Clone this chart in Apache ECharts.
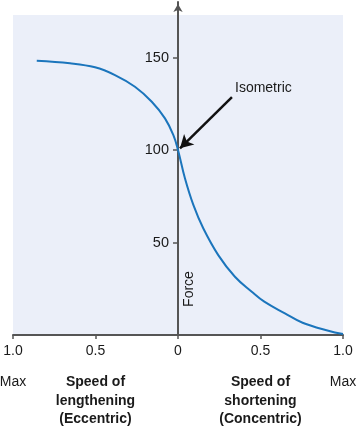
<!DOCTYPE html>
<html>
<head>
<meta charset="utf-8">
<script src="https://cdn.jsdelivr.net/npm/echarts@6/dist/echarts.min.js"></script>
<style>html,body{margin:0;padding:0;background:#fff}#c{width:356px;height:429px}</style>
</head>
<body>
<div id="c"></div>
<script>
// Speed axis: negative = lengthening (eccentric), positive = shortening (concentric)
const curveSpeed = [-0.856, -0.655, -0.503, -0.382, -0.261, -0.159, -0.079, -0.028, 0, 0.042, 0.093, 0.153, 0.244, 0.345, 0.447, 0.523, 0.648, 0.755, 0.911, 1.0];
const curveForce = [148.3, 146.9, 144.7, 140.5, 134.2, 126.1, 117.1, 108.1, 100, 84.7, 70.3, 57.7, 43.2, 31.5, 23.4, 18.0, 11.7, 6.6, 2.3, 0.5];
const xTickValues = [-1, -0.5, 0, 0.5, 1];
const xTickLabels = ['1.0', '0.5', '0', '0.5', '1.0'];
const xSubLabels = [['Max'], ['Speed of', 'lengthening', '(Eccentric)'], [], ['Speed of', 'shortening', '(Concentric)'], ['Max']];
const yTickValues = [50, 100, 150];
const isometricArrow = [[0.327, 128.6], [0.012, 100.9]];
const bgTop = 173;

const FONT = "'Liberation Sans', Arial, sans-serif";
const chart = echarts.init(document.getElementById('c'), null, {renderer: 'canvas'});

function xLabel(v) {
  const i = xTickValues.findIndex(t => Math.abs(t - v) < 1e-9);
  if (i < 0) return '';
  let s = '{n|' + xTickLabels[i] + '}';
  const sub = xSubLabels[i];
  if (sub.length) {
    s += '\n{g| }';
    const st = sub.length === 1 ? 'm' : 'b';
    sub.forEach(line => { s += '\n{' + st + '|' + line + '}'; });
  }
  return s;
}

chart.setOption({
  animation: false,
  grid: {left: 13, right: 13, top: 2, bottom: 94, containLabel: false, outerBoundsMode: 'none'},
  xAxis: {
    type: 'value', min: -1, max: 1, interval: 0.5, z: 5,
    splitLine: {show: false},
    axisLine: {lineStyle: {color: '#555', width: 2}},
    axisTick: {show: true, length: 4, lineStyle: {color: '#555', width: 1.5}},
    axisLabel: {
      margin: 8, color: '#1a1a1a', fontFamily: FONT, formatter: xLabel,
      rich: {
        n: {fontSize: 14, lineHeight: 17, fontFamily: FONT, color: '#1a1a1a'},
        g: {fontSize: 10, lineHeight: 13},
        m: {fontSize: 14, lineHeight: 18.5, fontFamily: FONT, color: '#1a1a1a'},
        b: {fontSize: 14, lineHeight: 18.5, fontWeight: 'bold', fontFamily: FONT, color: '#1a1a1a'}
      }
    }
  },
  yAxis: {
    type: 'value', min: 0, max: 180, z: 5, offset: -165,
    splitLine: {show: false},
    axisLine: {onZero: false, lineStyle: {color: '#555', width: 2}, symbol: ['none', 'arrow'], symbolSize: [7, 8], symbolOffset: [0, -2]},
    axisTick: {show: true, length: 5, customValues: yTickValues, lineStyle: {color: '#555', width: 1.5}},
    axisLabel: {margin: 9, customValues: yTickValues, fontSize: 14.5, color: '#1a1a1a', fontFamily: FONT}
  },
  series: [{
    type: 'line', z: 6,
    data: curveSpeed.map((x, i) => [x, curveForce[i]]),
    smooth: 0.4,
    showSymbol: false, symbol: 'none',
    lineStyle: {color: '#1b75bc', width: 2},
    markArea: {
      silent: true, z: 0,
      itemStyle: {color: '#ebeff9', opacity: 1},
      data: [[{coord: [-1, 0]}, {coord: [1, bgTop]}]]
    },
    markLine: {
      silent: true, symbol: ['none', 'arrow'], symbolSize: [11, 13],
      lineStyle: {color: '#111', width: 2.5, type: 'solid'},
      label: {show: false},
      data: [[{coord: isometricArrow[0]}, {coord: isometricArrow[1]}]]
    }
  }],
  graphic: [
    {type: 'text', x: 235, y: 88, z: 10, style: {text: 'Isometric', font: '14px ' + FONT, fill: '#1a1a1a', verticalAlign: 'middle', align: 'left'}},
    {type: 'text', x: 189, y: 289, rotation: Math.PI / 2, z: 10, style: {text: 'Force', font: '14px ' + FONT, fill: '#1a1a1a', verticalAlign: 'middle', align: 'center'}}
  ]
});
</script>
</body>
</html>
